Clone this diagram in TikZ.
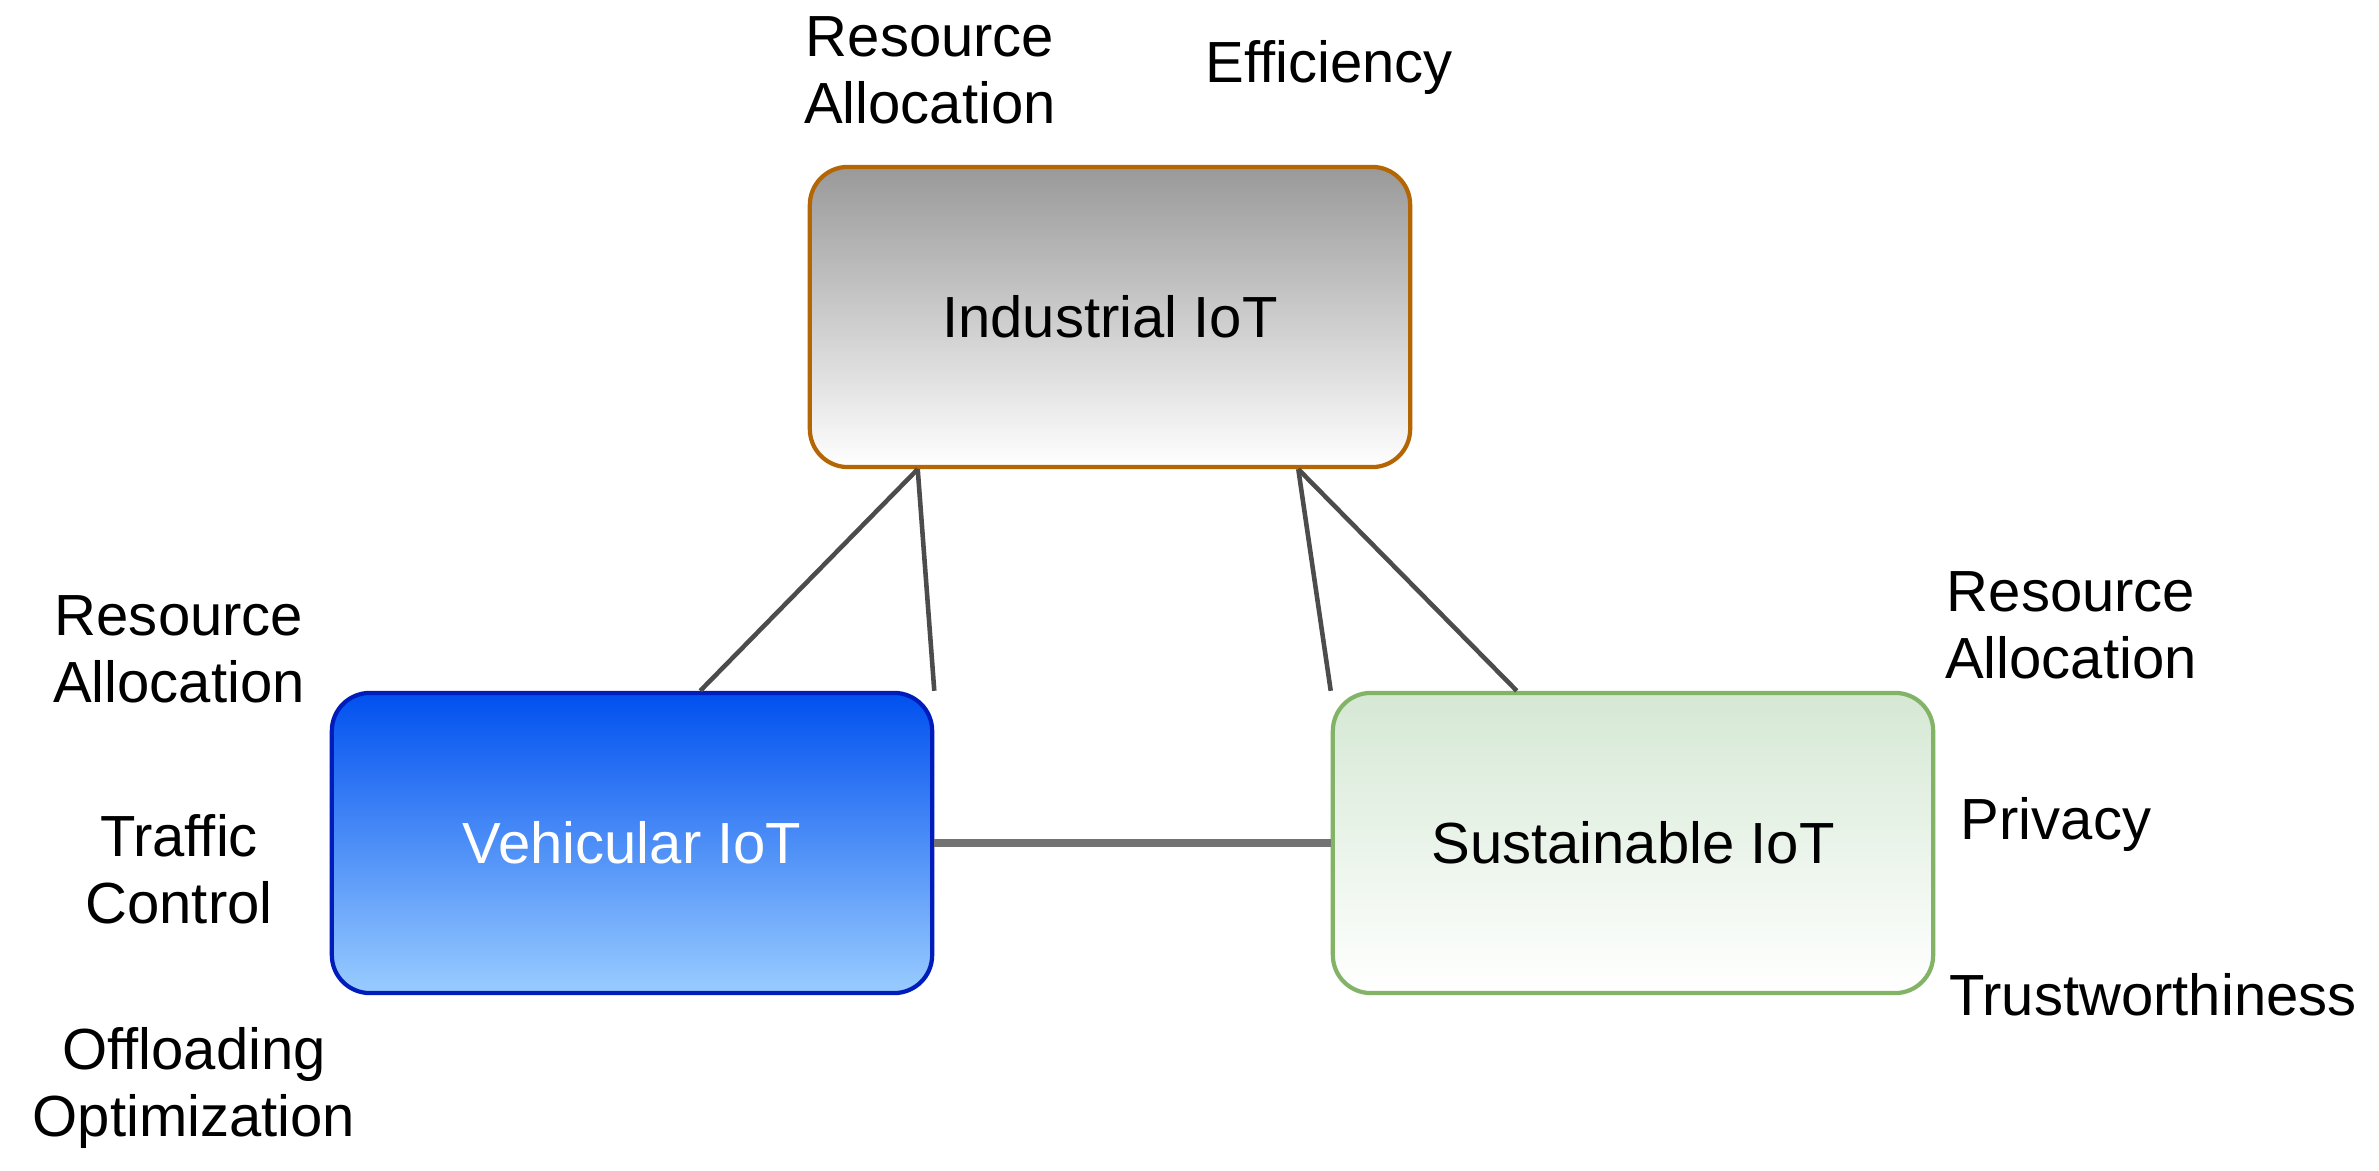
\documentclass[tikz,border=0pt]{standalone}
\usepackage{fontspec}
\setmainfont{Liberation Sans}
\begin{document}
\begin{tikzpicture}[x=0.01cm,y=-0.01cm,
  box/.style={rounded corners=0.38cm,line width=1.2pt,minimum width=6.0cm,minimum height=3.0cm,font=\fontsize{16.5}{19}\selectfont},
  lbl/.style={align=center,font=\fontsize{16.5}{19}\selectfont},
  link/.style={draw=black!70,line width=1.3pt}]
\useasboundingbox (0,0) rectangle (2379,1171);
\definecolor{indb}{HTML}{B46504}
\definecolor{vehb}{HTML}{001DBC}
\definecolor{vehtop}{HTML}{0050EF}
\definecolor{vehbot}{HTML}{99CCFF}
\definecolor{susb}{HTML}{82B366}
\definecolor{sustop}{HTML}{D5E8D4}
\node[box,draw=indb,top color=black!40,bottom color=white] (ind) at (1110,317) {Industrial IoT};
\node[box,draw=vehb,top color=vehtop,bottom color=vehbot,text=white] (veh) at (632,843) {Vehicular IoT};
\node[box,draw=susb,top color=sustop,bottom color=white] (sus) at (1633,843) {Sustainable IoT};
\draw[link] (ind.south west)++(110,0) coordinate (a1) -- (veh.north east) ++(-234,0) coordinate (a2);
\draw[link] (a1) -- (a2);
\draw[link] (ind.south east)++(-114,0) coordinate (b1) -- (sus.north west) ++(186,0) coordinate (b2);
\draw[link] (b1) -- (b2);
\draw[draw=black!55,line width=2.2pt] (veh.east) -- (sus.west);
\node[lbl] (t1) at (930,70) {Resource\\Allocation};
\node[lbl] (t2) at (1329,68) {Efficiency};
\node[lbl] (l1) at (179,649) {Resource\\Allocation};
\node[lbl] (l2) at (179,869) {Traffic\\Control};
\node[lbl] (l3) at (194,1088) {Offloading\\Optimization};
\node[lbl] (r1) at (2071,625) {Resource\\Allocation};
\node[lbl] (r2) at (2056,825) {Privacy};
\node[lbl] (r3) at (2153,995) {Trustworthiness};
\end{tikzpicture}
\end{document}
